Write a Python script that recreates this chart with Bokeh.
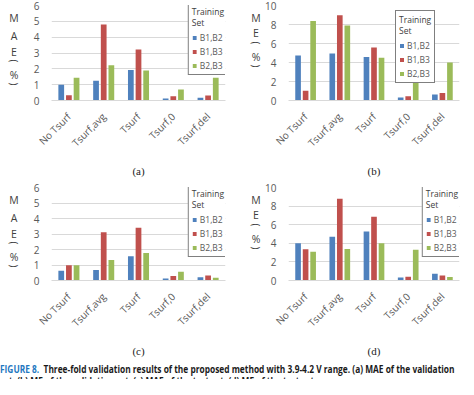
import math
from bokeh.plotting import figure
from bokeh.models import FactorRange, Range1d, FixedTicker, Legend, LegendItem, Div
from bokeh.transform import dodge
from bokeh.layouts import column, row
from bokeh.embed import file_html
from bokeh.resources import INLINE

# ---------------- data ----------------
categories = ["No Tsurf", "Tsurf,avg", "Tsurf", "Tsurf,0", "Tsurf,del"]
series = ["B1,B2", "B1,B3", "B2,B3"]

# (a) MAE of the validation set
a_b1b2 = [1.00, 1.25, 1.93, 0.13, 0.17]
a_b1b3 = [0.33, 4.80, 3.22, 0.27, 0.32]
a_b2b3 = [1.43, 2.23, 1.89, 0.70, 1.43]
# (b) ME of the validation set
b_b1b2 = [4.73, 4.95, 4.57, 0.32, 0.63]
b_b1b3 = [1.02, 8.98, 5.59, 0.44, 0.79]
b_b2b3 = [8.38, 7.90, 4.50, 3.90, 4.00]
# (c) MAE of the test set
c_b1b2 = [0.63, 0.67, 1.57, 0.13, 0.21]
c_b1b3 = [0.98, 3.12, 3.41, 0.29, 0.33]
c_b2b3 = [0.98, 1.32, 1.78, 0.57, 0.17]
# (d) ME of the test set
d_b1b2 = [4.00, 4.70, 5.27, 0.32, 0.73]
d_b1b3 = [3.37, 8.79, 6.86, 0.41, 0.54]
d_b2b3 = [3.08, 3.40, 4.00, 3.30, 0.38]

ticks_mae = [0, 1, 2, 3, 4, 5, 6]
ticks_me = [0, 2, 4, 6, 8, 10]

ylabel_mae = ["M", "A", "E", "(", "%", ")"]
ylabel_me = ["M", "E", "(", "%", ")"]
legend_title = "Training\nSet"

caption_head = "FIGURE 8."
caption_line1 = "Three-fold validation results of the proposed method with 3.9-4.2 V range. (a) MAE of the validation"
caption_line2 = "set. (b) ME of the validation set. (c) MAE of the test set. (d) ME of the test set."

# ---------------- style ----------------
colors = ["#4F81BD", "#C0504D", "#9BBB59"]
offsets = [-0.22, 0.0, 0.22]
BAR_W = 0.165
FONT = "Open Sans"
GRID = "#D9D9D9"
TICK_C = "#595959"
ROW_H = 180

# vertical offsets (px below frame top) of the stacked y-label characters
offs_mae = [12.5, 31, 46.5, 56, 70, 79]
offs_me = [12.5, 28, 37.5, 52, 61]


def make_ylabel(chars, offs, xc, width, bt):
    parts = []
    for ch, t in zip(chars, offs):
        yc = bt + t
        if ch in "()":
            inner = ('<span style="display:inline-block;transform:rotate(90deg);'
                     'font-size:10px;">' + ch + '</span>')
        else:
            inner = ch
        parts.append(
            '<div style="position:absolute;left:%dpx;width:20px;top:%.1fpx;height:14px;'
            'line-height:14px;text-align:center;">%s</div>' % (xc - 10, yc - 7, inner))
    html = ('<div style="position:relative;width:%dpx;height:%dpx;overflow:visible;'
            "font-family:'Open Sans',sans-serif;font-size:10.5px;color:#404040;\">" % (width, ROW_H)
            + "".join(parts) + "</div>")
    return Div(text=html, width=width, height=ROW_H, margin=(0, 0, 0, 0))


def make_panel(vals, ticks, ymax, tag, width, bl, br, bt, bb, legend_loc):
    p = figure(x_range=FactorRange(*categories), y_range=Range1d(0, ymax),
               width=width, height=ROW_H, output_backend="svg",
               toolbar_location=None, min_border_left=bl, min_border_right=br,
               min_border_top=bt, min_border_bottom=bb)
    p.outline_line_color = None
    p.background_fill_color = "white"
    p.border_fill_color = "white"

    src = {"cat": categories}
    for s, v in zip(series, vals):
        src[s] = v
    renderers = []
    for s, c, o in zip(series, colors, offsets):
        r = p.vbar(x=dodge("cat", o, range=p.x_range), top=s, width=BAR_W,
                   source=src, fill_color=c, line_color=None)
        renderers.append(r)

    p.xgrid.grid_line_color = None
    p.ygrid.grid_line_color = GRID
    p.ygrid.grid_line_width = 1

    p.yaxis.ticker = FixedTicker(ticks=ticks)
    p.yaxis.axis_line_color = None
    p.yaxis.major_tick_line_color = None
    p.yaxis.minor_tick_line_color = None
    p.yaxis.major_label_text_font = FONT
    p.yaxis.major_label_text_font_size = "10px"
    p.yaxis.major_label_text_color = TICK_C
    p.yaxis.major_label_standoff = 6

    p.xaxis.axis_line_color = GRID
    p.xaxis.major_tick_line_color = None
    p.xaxis.minor_tick_line_color = None
    p.xaxis.major_label_orientation = math.pi / 4
    p.xaxis.major_label_text_font = FONT
    p.xaxis.major_label_text_font_size = "10px"
    p.xaxis.major_label_text_color = TICK_C
    p.xaxis.major_label_standoff = 8
    p.xaxis.axis_label = tag
    p.xaxis.axis_label_text_font = "Liberation Serif"
    p.xaxis.axis_label_text_font_style = "normal"
    p.xaxis.axis_label_text_font_size = "11px"
    p.xaxis.axis_label_text_color = "#222222"
    p.xaxis.axis_label_standoff = 8

    items = [LegendItem(label=s, renderers=[r]) for s, r in zip(series, renderers)]
    leg = Legend(items=items, location=legend_loc, title=legend_title)
    leg.margin = -3
    leg.padding = 3
    leg.spacing = 3
    leg.label_height = 11
    leg.label_width = 10
    leg.glyph_width = 5
    leg.glyph_height = 5
    leg.label_standoff = 3
    leg.label_text_font = FONT
    leg.label_text_font_size = "8.5px"
    leg.label_text_color = TICK_C
    leg.title_text_font = FONT
    leg.title_text_font_size = "8.5px"
    leg.title_text_font_style = "normal"
    leg.title_text_color = "#404040"
    leg.title_standoff = 4
    leg.border_line_color = "black"
    leg.border_line_width = 1.5
    leg.background_fill_color = "white"
    leg.background_fill_alpha = 1.0
    p.add_layout(leg, "center")
    return p


la = make_ylabel(ylabel_mae, offs_mae, 14, 30, 5)
pa = make_panel([a_b1b2, a_b1b3, a_b2b3], ticks_mae, 6, "(a)", 202, 19, 7, 5, 73, "top_right")
lb = make_ylabel(ylabel_me, offs_me, 24, 30, 5)
pb = make_panel([b_b1b2, b_b1b3, b_b2b3], ticks_me, 10, "(b)", 202, 19, 5, 5, 73, (107, 17))
lc = make_ylabel(ylabel_mae, offs_mae, 14, 30, 7)
pc = make_panel([c_b1b2, c_b1b3, c_b2b3], ticks_mae, 6, "(c)", 202, 19, 7, 7, 71, "top_right")
ld = make_ylabel(ylabel_me, offs_me, 24, 30, 7)
pd_ = make_panel([d_b1b2, d_b1b3, d_b2b3], ticks_me, 10, "(d)", 202, 19, 5, 7, 71, "top_right")

caption_html = (
    '<div style="padding-top:3px;width:660px;transform:scaleX(0.795);transform-origin:0 0;'
    "font-family:'Open Sans',sans-serif;font-weight:700;font-size:10.5px;line-height:12px;"
    'white-space:nowrap;color:#1a1a1a;">'
    '<span style="color:#1F78C1">' + caption_head + '</span>&nbsp; ' + caption_line1 +
    '<br>' + caption_line2 + '</div>'
)
caption = Div(text=caption_html, width=464, height=19, margin=(0, 0, 0, 0),
              styles={"overflow": "hidden"})

layout = column(row(la, pa, lb, pb), row(lc, pc, ld, pd_), caption)
open("out.html", "w").write(file_html(layout, INLINE))
